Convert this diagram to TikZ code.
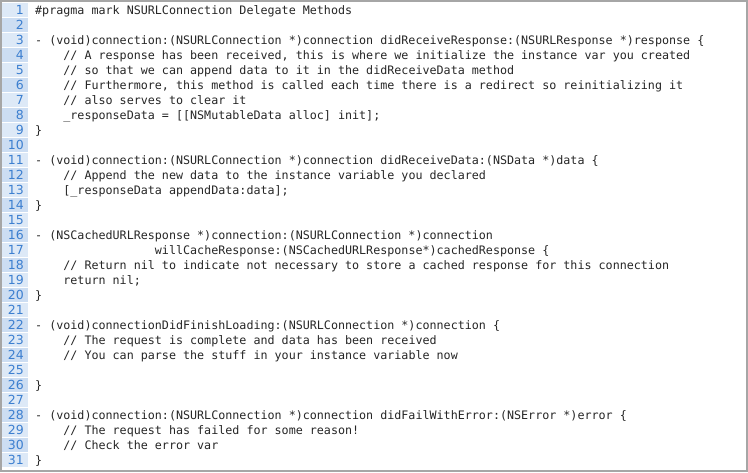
\documentclass[tikz,border=0pt]{standalone}
\usepackage{fontspec}
\setmonofont{DejaVu Sans Mono}
\setsansfont{DejaVu Sans}
\definecolor{gutterA}{HTML}{DDE9F7}
\definecolor{gutterB}{HTML}{CCDDF2}
\definecolor{numblue}{HTML}{3C7FD0}
\tikzstyle{codeline} = [anchor=base west, inner sep=0pt, font=\fontsize{11.7}{15}\ttfamily, text=black!85]
\tikzstyle{lineno} = [anchor=base east, inner sep=0pt, font=\fontsize{12.5}{15}\sffamily, text=numblue]
\newcommand{\ind}[1]{\hspace*{#1\fontcharwd\font`M}}

\begin{document}
\begin{tikzpicture}[x=1pt, y=-1pt]
	% Frame and gutter
	\useasboundingbox (0,0) rectangle (748,472);
	\fill[white] (0,0) rectangle (748,472);
	\foreach \i in {1,...,31} {
		\pgfmathsetmacro{\ytop}{2+15*(\i-1)}
		\ifodd\i \def\gc{gutterA}\else \def\gc{gutterB}\fi
		\fill[\gc] (2,\ytop) rectangle (28,\ytop+15);
		\draw[white, line width=0.5pt] (2,\ytop) -- (28,\ytop);
		\node [lineno] (n\i) at (24,\ytop+12.5) {\i};
	}
	\draw[gray!70, line width=1.5pt] (1,1) rectangle (747,471);
	% Code lines
	\node [codeline] (l1) at (35,14) {\#pragma mark NSURLConnection Delegate Methods};
	\node [codeline] (l3) at (35,44) {- (void)connection:(NSURLConnection *)connection didReceiveResponse:(NSURLResponse *)response \{};
	\node [codeline] (l4) at (35,59) {\ind{4}// A response has been received, this is where we initialize the instance var you created};
	\node [codeline] (l5) at (35,74) {\ind{4}// so that we can append data to it in the didReceiveData method};
	\node [codeline] (l6) at (35,89) {\ind{4}// Furthermore, this method is called each time there is a redirect so reinitializing it};
	\node [codeline] (l7) at (35,104) {\ind{4}// also serves to clear it};
	\node [codeline] (l8) at (35,119) {\ind{4}\_responseData = [[NSMutableData alloc] init];};
	\node [codeline] (l9) at (35,134) {\}};
	\node [codeline] (l11) at (35,164) {- (void)connection:(NSURLConnection *)connection didReceiveData:(NSData *)data \{};
	\node [codeline] (l12) at (35,179) {\ind{4}// Append the new data to the instance variable you declared};
	\node [codeline] (l13) at (35,194) {\ind{4}[\_responseData appendData:data];};
	\node [codeline] (l14) at (35,209) {\}};
	\node [codeline] (l16) at (35,239) {- (NSCachedURLResponse *)connection:(NSURLConnection *)connection};
	\node [codeline] (l17) at (35,254) {\ind{17}willCacheResponse:(NSCachedURLResponse*)cachedResponse \{};
	\node [codeline] (l18) at (35,269) {\ind{4}// Return nil to indicate not necessary to store a cached response for this connection};
	\node [codeline] (l19) at (35,284) {\ind{4}return nil;};
	\node [codeline] (l20) at (35,299) {\}};
	\node [codeline] (l22) at (35,329) {- (void)connectionDidFinishLoading:(NSURLConnection *)connection \{};
	\node [codeline] (l23) at (35,344) {\ind{4}// The request is complete and data has been received};
	\node [codeline] (l24) at (35,359) {\ind{4}// You can parse the stuff in your instance variable now};
	\node [codeline] (l26) at (35,389) {\}};
	\node [codeline] (l28) at (35,419) {- (void)connection:(NSURLConnection *)connection didFailWithError:(NSError *)error \{};
	\node [codeline] (l29) at (35,434) {\ind{4}// The request has failed for some reason!};
	\node [codeline] (l30) at (35,449) {\ind{4}// Check the error var};
	\node [codeline] (l31) at (35,464) {\}};
\end{tikzpicture}
\end{document}
